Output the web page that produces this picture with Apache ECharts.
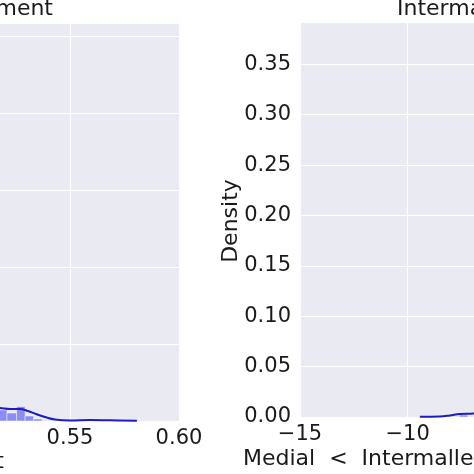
<!DOCTYPE html>
<html><head><meta charset="utf-8">
<script src="https://cdn.jsdelivr.net/npm/echarts@6/dist/echarts.min.js"></script>
<style>html,body{margin:0;padding:0;background:#fff;}#c{width:474px;height:474px;}</style>
</head><body><div id="c"></div>
<script>
// Left panel (alignment ratio) histogram bins: [start, end, density]
const leftBinStart = [0.5133, 0.5172, 0.5211, 0.5255, 0.5294, 0.5333];
const leftBinEnd   = [0.5172, 0.5211, 0.5255, 0.5294, 0.5333, 0.5372];
const leftBinVal   = [1.6, 1.43, 1.04, 1.88, 0.65, 0.26];
// Left KDE
const leftKdeX = [0.5150, 0.5179, 0.5225, 0.5271, 0.5307, 0.5344, 0.5385, 0.5431, 0.5500, 0.5592, 0.5683, 0.5807];
const leftKdeY = [1.72, 1.69, 1.56, 1.56, 1.30, 0.91, 0.52, 0.19, 0.06, 0.13, 0.09, 0.03];
// Right panel (intermalleolar) KDE and bins
const rightKdeX = [-9.43, -8.5, -8.04, -7.58, -6.93, -6.5];
const rightKdeY = [0.0003, 0.0005, 0.0015, 0.003, 0.0035, 0.006];
const rightBinStart = [-7.6];
const rightBinEnd = [-7.2];
const rightBinVal = [0.002];

const FONT = 'DejaVu Sans';
const fmtMinus = v => String(v).replace('-', '\u2212');

function histSeries(xi, yi, s, e, v) {
  return {
    type: 'custom', xAxisIndex: xi, yAxisIndex: yi, clip: true,
    data: s.map((d, i) => [d, e[i], v[i]]),
    renderItem: (params, api) => {
      const p0 = api.coord([api.value(0), 0]);
      const p1 = api.coord([api.value(1), api.value(2)]);
      return { type: 'rect',
        shape: { x: p0[0], y: p1[1], width: p1[0] - p0[0], height: p0[1] - p1[1] },
        style: { fill: 'rgba(0,0,255,0.4)', stroke: 'rgba(255,255,255,0.6)', lineWidth: 0.8 } };
    }
  };
}

const chart = echarts.init(document.getElementById('c'), null, { renderer: 'canvas' });
const axisCommon = {
  axisLine: { show: false }, axisTick: { show: false },
  splitLine: { show: true, lineStyle: { color: '#ffffff', width: 1 } },
};
chart.setOption({
  animation: false,
  textStyle: { fontFamily: FONT },
  grid: [
    { left: -39, width: 218, top: 23, height: 398, backgroundColor: '#EAEAF2', show: true, borderWidth: 0, outerBoundsMode: 'none', containLabel: false },
    { left: 300, width: 538, top: 22, height: 395, backgroundColor: '#EAEAF2', show: true, borderWidth: 0, outerBoundsMode: 'none', containLabel: false }
  ],
  xAxis: [
    Object.assign({ type: 'value', gridIndex: 0, min: 0.5, max: 0.6, interval: 0.05,
      axisLabel: { fontFamily: FONT, fontSize: 21, color: '#1a1a1a', margin: 7, formatter: v => v.toFixed(2) } }, axisCommon),
    Object.assign({ type: 'value', gridIndex: 1, min: -15, max: 10, interval: 5,
      axisLabel: { fontFamily: FONT, fontSize: 21, color: '#1a1a1a', margin: 7, formatter: v => fmtMinus(v) } }, axisCommon)
  ],
  yAxis: [
    Object.assign({ type: 'value', gridIndex: 0, min: 0, max: 51.7, interval: 10,
      axisLabel: { show: false } }, axisCommon),
    Object.assign({ type: 'value', gridIndex: 1, min: 0, max: 0.392, interval: 0.05,
      axisLabel: { fontFamily: FONT, fontSize: 21, color: '#1a1a1a', margin: 9, showMaxLabel: false, formatter: v => v.toFixed(2) } }, axisCommon)
  ],
  series: [
    histSeries(0, 0, leftBinStart, leftBinEnd, leftBinVal),
    { type: 'line', xAxisIndex: 0, yAxisIndex: 0, smooth: 0.4, showSymbol: false,
      data: leftKdeX.map((x, i) => [x, leftKdeY[i]]),
      lineStyle: { color: '#1c1cc0', width: 2 } },
    histSeries(1, 1, rightBinStart, rightBinEnd, rightBinVal),
    { type: 'line', xAxisIndex: 1, yAxisIndex: 1, smooth: 0.4, showSymbol: false,
      data: rightKdeX.map((x, i) => [x, rightKdeY[i]]),
      lineStyle: { color: '#1c1cc0', width: 2 } }
  ],
  graphic: [
    { type: 'text', x: 53, y: 9, style: { text: 'Alignment', font: '22px "DejaVu Sans"', fill: '#1a1a1a', align: 'right', verticalAlign: 'middle' } },
    { type: 'text', x: 397, y: 9, style: { text: 'Intermalleolar Distance', font: '22px "DejaVu Sans"', fill: '#1a1a1a', align: 'left', verticalAlign: 'middle' } },
    { type: 'text', x: 4, y: 462, style: { text: 'Medial  <  Alignment', font: '22px "DejaVu Sans"', fill: '#1a1a1a', align: 'right', verticalAlign: 'middle' } },
    { type: 'text', x: 243, y: 459, style: { text: 'Medial  <  Intermalleolar Distance  >  Lateral', font: '22px "DejaVu Sans"', fill: '#1a1a1a', align: 'left', verticalAlign: 'middle' } },
    { type: 'text', x: 231, y: 221, rotation: Math.PI / 2, style: { text: 'Density', font: '22px "DejaVu Sans"', fill: '#1a1a1a', align: 'center', verticalAlign: 'middle' } }
  ]
});
</script></body></html>
